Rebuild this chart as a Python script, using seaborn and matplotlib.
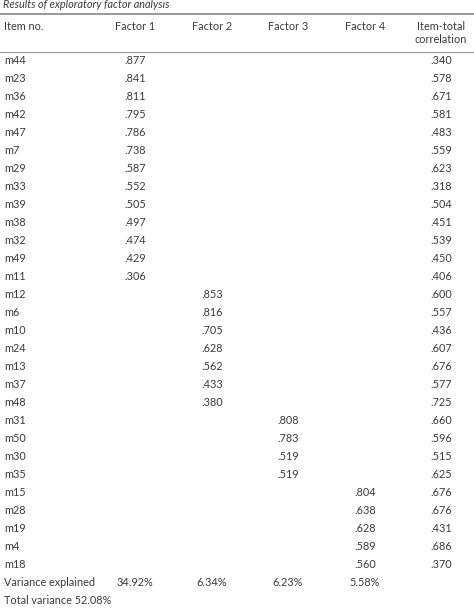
import matplotlib.pyplot as plt
import seaborn as sns

items = ['m44', 'm23', 'm36', 'm42', 'm47', 'm7', 'm29', 'm33', 'm39', 'm38', 'm32', 'm49', 'm11',
         'm12', 'm6', 'm10', 'm24', 'm13', 'm37', 'm48',
         'm31', 'm50', 'm30', 'm35',
         'm15', 'm28', 'm19', 'm4', 'm18']
factor = [1] * 13 + [2] * 7 + [3] * 4 + [4] * 5
loadings = ['.877', '.841', '.811', '.795', '.786', '.738', '.587', '.552', '.505', '.497', '.474', '.429', '.306',
            '.853', '.816', '.705', '.628', '.562', '.433', '.380',
            '.808', '.783', '.519', '.519',
            '.804', '.638', '.628', '.589', '.560']
item_total = ['.340', '.578', '.671', '.581', '.483', '.559', '.623', '.318', '.504', '.451', '.539', '.450', '.406',
              '.600', '.557', '.436', '.607', '.676', '.577', '.725',
              '.660', '.596', '.515', '.625',
              '.676', '.676', '.431', '.686', '.370']
variance = ['34.92%', '6.34%', '6.23%', '5.58%']
headers = ['Factor 1', 'Factor 2', 'Factor 3', 'Factor 4']

sns.set_style('white')
plt.rcParams['font.family'] = ['Lato', 'DejaVu Sans']

W, H = 474, 609
fig = plt.figure(figsize=(W / 100, H / 100), dpi=100)
ax = fig.add_axes([0, 0, 1, 1])
ax.set_xlim(0, W)
ax.set_ylim(H, 0)
ax.axis('off')

fs = 7.8
col = '#3a3a3a'
xs = [135, 212, 288, 365]
xr = 441

ax.text(3, 5, 'Results of exploratory factor analysis', fontsize=fs, style='italic', va='center', color=col)
ax.axhline(14, color='#888888', lw=1.2)
ax.axhline(52, color='#999999', lw=0.8)
ax.text(4, 27, 'Item no.', fontsize=fs, va='center', color=col)
for x, h in zip(xs, headers):
    ax.text(x, 27, h, fontsize=fs, va='center', ha='center', color=col)
ax.text(xr, 33, 'Item-total\ncorrelation', fontsize=fs, va='center', ha='center', color=col, linespacing=1.3)

for i, (it, f, ld, r) in enumerate(zip(items, factor, loadings, item_total)):
    y = 60 + 18 * i
    ax.text(4, y, it, fontsize=fs, va='center', color=col)
    ax.text(xs[f - 1], y, ld, fontsize=fs, va='center', ha='center', color=col)
    ax.text(xr, y, r, fontsize=fs, va='center', ha='center', color=col)

y = 60 + 18 * len(items)
ax.text(4, y, 'Variance explained', fontsize=fs, va='center', color=col)
for x, v in zip(xs, variance):
    ax.text(x, y, v, fontsize=fs, va='center', ha='center', color=col)
ax.text(4, y + 18, 'Total variance 52.08%', fontsize=fs, va='center', color=col)

fig.savefig('out.png', dpi=100)
